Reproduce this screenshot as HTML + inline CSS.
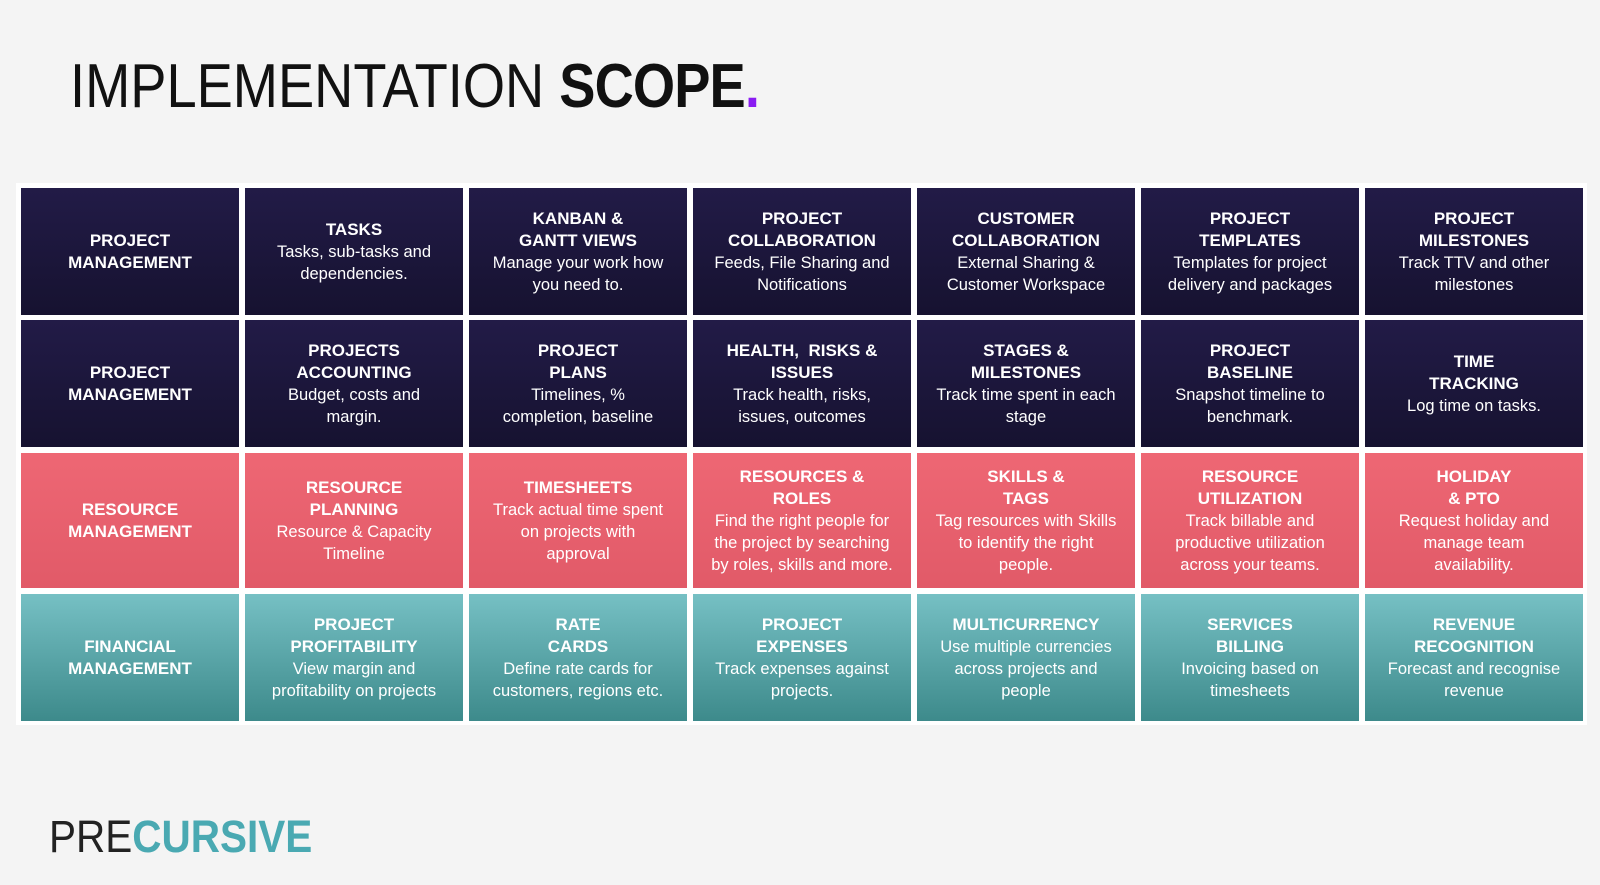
<!DOCTYPE html>
<html><head><meta charset="utf-8">
<style>
html,body{margin:0;padding:0;}
body{width:1600px;height:885px;background:#f4f4f4;position:relative;overflow:hidden;font-family:"Liberation Sans",sans-serif;}
#title{position:absolute;left:70px;top:52px;font-size:62px;line-height:70px;color:#111;white-space:nowrap;transform-origin:0 0;transform:scaleX(0.875);}
#title b{font-weight:bold;letter-spacing:-1px;}
#title .dot{color:#8a1cf2;font-weight:bold;}
#panel{position:absolute;left:16px;top:183px;width:1571px;height:542px;background:#fff;}
.cell{position:absolute;width:218px;display:flex;align-items:center;justify-content:center;text-align:center;color:#fff;font-size:16.5px;line-height:22px;box-sizing:border-box;padding:0 2px;white-space:nowrap;}
.cell b{display:block;font-size:17px;}
.navy{background:linear-gradient(#221b47,#161230);}
.red{background:linear-gradient(#ee6774,#e15a68);}
.teal{background:linear-gradient(#76c0c4,#3d8a8b);}
#logo{position:absolute;left:49px;top:812px;font-size:45px;line-height:50px;color:#222;white-space:nowrap;transform-origin:0 0;transform:scaleX(0.9);}
#logo b{color:#4aa9b2;}
</style></head>
<body>
<div id="title">IMPLEMENTATION <b>SCOPE</b><span class="dot">.</span></div>
<div id="panel"></div>
<div id="logo">PRE<b>CURSIVE</b></div>
<script>
const rowClasses=['navy','navy','red','teal'];
const rowTops=[188,320,453,594];
const rowHeights=[127,127,135,127];
const cells=[
[['PROJECT<br>MANAGEMENT',''],['TASKS','Tasks, sub-tasks and<br>dependencies.'],['KANBAN &amp;<br>GANTT VIEWS','Manage your work how<br>you need to.'],['PROJECT<br>COLLABORATION','Feeds, File Sharing and<br>Notifications'],['CUSTOMER<br>COLLABORATION','External Sharing &amp;<br>Customer Workspace'],['PROJECT<br>TEMPLATES','Templates for project<br>delivery and packages'],['PROJECT<br>MILESTONES','Track TTV and other<br>milestones']],
[['PROJECT<br>MANAGEMENT',''],['PROJECTS<br>ACCOUNTING','Budget, costs and<br>margin.'],['PROJECT<br>PLANS','Timelines, %<br>completion, baseline'],['HEALTH,&nbsp; RISKS &amp;<br>ISSUES','Track health, risks,<br>issues, outcomes'],['STAGES &amp;<br>MILESTONES','Track time spent in each<br>stage'],['PROJECT<br>BASELINE','Snapshot timeline to<br>benchmark.'],['TIME<br>TRACKING','Log time on tasks.']],
[['RESOURCE<br>MANAGEMENT',''],['RESOURCE<br>PLANNING','Resource &amp; Capacity<br>Timeline'],['TIMESHEETS','Track actual time spent<br>on projects with<br>approval'],['RESOURCES &amp;<br>ROLES','Find the right people for<br>the project by searching<br>by roles, skills and more.'],['SKILLS &amp;<br>TAGS','Tag resources with Skills<br>to identify the right<br>people.'],['RESOURCE<br>UTILIZATION','Track billable and<br>productive utilization<br>across your teams.'],['HOLIDAY<br>&amp; PTO','Request holiday and<br>manage team<br>availability.']],
[['FINANCIAL<br>MANAGEMENT',''],['PROJECT<br>PROFITABILITY','View margin and<br>profitability on projects'],['RATE<br>CARDS','Define rate cards for<br>customers, regions etc.'],['PROJECT<br>EXPENSES','Track expenses against<br>projects.'],['MULTICURRENCY','Use multiple currencies<br>across projects and<br>people'],['SERVICES<br>BILLING','Invoicing based on<br>timesheets'],['REVENUE<br>RECOGNITION','Forecast and recognise<br>revenue']]
];
cells.forEach((row,r)=>{
  row.forEach((c,i)=>{
    const d=document.createElement('div');
    d.className='cell '+rowClasses[r];
    d.style.left=(21+i*224)+'px';
    d.style.top=rowTops[r]+'px';
    d.style.height=rowHeights[r]+'px';
    
    
    d.innerHTML='<div><b>'+c[0]+'</b>'+(c[1]?c[1]:'')+'</div>';
    document.body.appendChild(d);
  });
});
</script>
</body></html>
